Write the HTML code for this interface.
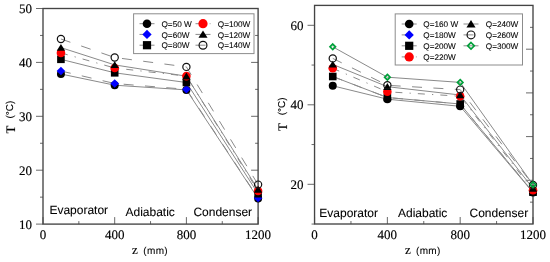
<!DOCTYPE html>
<html><head><meta charset="utf-8"><title>Temperature distribution</title>
<style>
html,body{margin:0;padding:0;background:#fff;width:550px;height:262px;overflow:hidden}
svg{display:block}
text{text-rendering:geometricPrecision}
text{stroke:#000;stroke-width:0.15px}
text.s{stroke:#000;stroke-width:0.08px}
</style></head>
<body>
<svg width="550" height="262" viewBox="0 0 550 262">
<rect width="550" height="262" fill="#fff"/>
<line x1="43.00" y1="224.1" x2="43.00" y2="217.1" stroke="#6a6a6a" stroke-width="1"/>
<line x1="78.85" y1="224.1" x2="78.85" y2="221.1" stroke="#6a6a6a" stroke-width="1"/>
<line x1="114.70" y1="224.1" x2="114.70" y2="217.1" stroke="#6a6a6a" stroke-width="1"/>
<line x1="150.55" y1="224.1" x2="150.55" y2="221.1" stroke="#6a6a6a" stroke-width="1"/>
<line x1="186.40" y1="224.1" x2="186.40" y2="217.1" stroke="#6a6a6a" stroke-width="1"/>
<line x1="222.25" y1="224.1" x2="222.25" y2="221.1" stroke="#6a6a6a" stroke-width="1"/>
<line x1="258.10" y1="224.1" x2="258.10" y2="217.1" stroke="#6a6a6a" stroke-width="1"/>
<line x1="36.0" y1="224.10" x2="43.0" y2="224.10" stroke="#6a6a6a" stroke-width="1"/>
<line x1="40.0" y1="197.15" x2="43.0" y2="197.15" stroke="#6a6a6a" stroke-width="1"/>
<line x1="36.0" y1="170.20" x2="43.0" y2="170.20" stroke="#6a6a6a" stroke-width="1"/>
<line x1="40.0" y1="143.25" x2="43.0" y2="143.25" stroke="#6a6a6a" stroke-width="1"/>
<line x1="36.0" y1="116.30" x2="43.0" y2="116.30" stroke="#6a6a6a" stroke-width="1"/>
<line x1="40.0" y1="89.35" x2="43.0" y2="89.35" stroke="#6a6a6a" stroke-width="1"/>
<line x1="36.0" y1="62.40" x2="43.0" y2="62.40" stroke="#6a6a6a" stroke-width="1"/>
<line x1="40.0" y1="35.45" x2="43.0" y2="35.45" stroke="#6a6a6a" stroke-width="1"/>
<line x1="36.0" y1="8.50" x2="43.0" y2="8.50" stroke="#6a6a6a" stroke-width="1"/>
<line x1="255.10000000000002" y1="197.15" x2="258.1" y2="197.15" stroke="#6a6a6a" stroke-width="1"/>
<line x1="251.10000000000002" y1="170.20" x2="258.1" y2="170.20" stroke="#6a6a6a" stroke-width="1"/>
<line x1="255.10000000000002" y1="143.25" x2="258.1" y2="143.25" stroke="#6a6a6a" stroke-width="1"/>
<line x1="251.10000000000002" y1="116.30" x2="258.1" y2="116.30" stroke="#6a6a6a" stroke-width="1"/>
<line x1="255.10000000000002" y1="89.35" x2="258.1" y2="89.35" stroke="#6a6a6a" stroke-width="1"/>
<line x1="251.10000000000002" y1="62.40" x2="258.1" y2="62.40" stroke="#6a6a6a" stroke-width="1"/>
<line x1="255.10000000000002" y1="35.45" x2="258.1" y2="35.45" stroke="#6a6a6a" stroke-width="1"/>
<rect x="43.0" y="8.5" width="215.10" height="215.60" fill="none" stroke="#444444" stroke-width="1.35"/>
<text x="43.00" y="239.2" text-anchor="middle" font-family="'Liberation Serif', 'Times New Roman', serif" font-size="13" fill="#000">0</text>
<text x="114.70" y="239.2" text-anchor="middle" font-family="'Liberation Serif', 'Times New Roman', serif" font-size="13" fill="#000">400</text>
<text x="186.40" y="239.2" text-anchor="middle" font-family="'Liberation Serif', 'Times New Roman', serif" font-size="13" fill="#000">800</text>
<text x="258.10" y="239.2" text-anchor="middle" font-family="'Liberation Serif', 'Times New Roman', serif" font-size="13" fill="#000">1200</text>
<text x="32.0" y="228.60" text-anchor="end" font-family="'Liberation Serif', 'Times New Roman', serif" font-size="13" fill="#000">10</text>
<text x="32.0" y="174.70" text-anchor="end" font-family="'Liberation Serif', 'Times New Roman', serif" font-size="13" fill="#000">20</text>
<text x="32.0" y="120.80" text-anchor="end" font-family="'Liberation Serif', 'Times New Roman', serif" font-size="13" fill="#000">30</text>
<text x="32.0" y="66.90" text-anchor="end" font-family="'Liberation Serif', 'Times New Roman', serif" font-size="13" fill="#000">40</text>
<text x="32.0" y="13.00" text-anchor="end" font-family="'Liberation Serif', 'Times New Roman', serif" font-size="13" fill="#000">50</text>
<text x="49.4" y="214.1" class="s" font-family="'Liberation Sans', Arial, sans-serif" font-size="12" fill="#000">Evaporator</text>
<text x="125.5" y="216.3" class="s" font-family="'Liberation Sans', Arial, sans-serif" font-size="12" fill="#000">Adiabatic</text>
<text x="193.4" y="215.8" class="s" font-family="'Liberation Sans', Arial, sans-serif" font-size="12" fill="#000">Condenser</text>
<text x="132" y="254.4" font-family="'Liberation Serif', 'Times New Roman', serif" font-size="13" fill="#000">z</text>
<text x="143.3" y="254.4" class="s" font-family="'Liberation Sans', Arial, sans-serif" font-size="10" letter-spacing="0.35" fill="#000">(mm)</text>
<text transform="translate(15.1,133.5) rotate(-90)" font-family="'Liberation Serif', 'Times New Roman', serif" font-size="13" fill="#000">T</text>
<text transform="translate(12.5,118.5) rotate(-90)" class="s" font-family="'Liberation Sans', Arial, sans-serif" font-size="10" fill="#000">(°C)</text>
<path d="M60.93 74.00L114.70 85.20L186.40 89.90L258.10 198.50" fill="none" stroke="#8a8a8a" stroke-width="1" />
<path d="M60.93 71.00L114.70 83.50L186.40 89.30L258.10 198.00" fill="none" stroke="#8a8a8a" stroke-width="1" stroke-dasharray="10 11.4"/>
<path d="M60.93 59.30L114.70 72.80L186.40 82.50L258.10 193.70" fill="none" stroke="#8a8a8a" stroke-width="1" />
<path d="M60.93 52.90L114.70 68.00L186.40 76.10L258.10 191.00" fill="none" stroke="#8a8a8a" stroke-width="1" stroke-dasharray="7 7.2 1.2 7.1"/>
<path d="M60.93 47.60L114.70 64.90L186.40 76.20L258.10 189.50" fill="none" stroke="#8a8a8a" stroke-width="1" />
<path d="M60.93 39.00L114.70 57.50L186.40 66.90L258.10 184.60" fill="none" stroke="#8a8a8a" stroke-width="1" stroke-dasharray="10 11.4"/>
<circle cx="60.93" cy="74.00" r="4.00" fill="#000"/>
<circle cx="114.70" cy="85.20" r="4.00" fill="#000"/>
<circle cx="186.40" cy="89.90" r="4.00" fill="#000"/>
<circle cx="258.10" cy="198.50" r="4.00" fill="#000"/>
<path d="M60.93 66.70L65.23 71.00L60.93 75.30L56.63 71.00Z" fill="#0000ff"/>
<path d="M114.70 79.20L119.00 83.50L114.70 87.80L110.40 83.50Z" fill="#0000ff"/>
<path d="M186.40 85.00L190.70 89.30L186.40 93.60L182.10 89.30Z" fill="#0000ff"/>
<path d="M258.10 193.70L262.40 198.00L258.10 202.30L253.80 198.00Z" fill="#0000ff"/>
<rect x="57.13" y="55.50" width="7.60" height="7.60" fill="#000"/>
<rect x="110.90" y="69.00" width="7.60" height="7.60" fill="#000"/>
<rect x="182.60" y="78.70" width="7.60" height="7.60" fill="#000"/>
<rect x="254.30" y="189.90" width="7.60" height="7.60" fill="#000"/>
<circle cx="60.93" cy="52.90" r="4.30" fill="#ff0000"/>
<circle cx="114.70" cy="68.00" r="4.30" fill="#ff0000"/>
<circle cx="186.40" cy="76.10" r="4.30" fill="#ff0000"/>
<circle cx="258.10" cy="191.00" r="4.30" fill="#ff0000"/>
<path d="M60.93 43.90L65.12 50.80L56.73 50.80Z" fill="#000"/>
<path d="M114.70 61.20L118.90 68.10L110.50 68.10Z" fill="#000"/>
<path d="M186.40 72.50L190.60 79.40L182.20 79.40Z" fill="#000"/>
<path d="M258.10 185.80L262.30 192.70L253.90 192.70Z" fill="#000"/>
<circle cx="60.93" cy="39.00" r="3.60" fill="none" stroke="#111" stroke-width="1.2"/>
<circle cx="114.70" cy="57.50" r="3.60" fill="none" stroke="#111" stroke-width="1.2"/>
<circle cx="186.40" cy="66.90" r="3.60" fill="none" stroke="#111" stroke-width="1.2"/>
<circle cx="258.10" cy="184.60" r="3.60" fill="none" stroke="#111" stroke-width="1.2"/>
<rect x="133.6" y="13.8" width="120.4" height="39.8" fill="#fff" stroke="#8c8c8c" stroke-width="1"/>
<line x1="139.5" y1="23.7" x2="154.5" y2="23.7" stroke="#8a8a8a" stroke-width="1" />
<circle cx="147.00" cy="23.70" r="4.32" fill="#000"/>
<text x="161.5" y="26.90" class="s" font-family="'Liberation Sans', Arial, sans-serif" font-size="8.2" fill="#000">Q=50 W</text>
<line x1="139.5" y1="34.4" x2="154.5" y2="34.4" stroke="#8a8a8a" stroke-width="1" stroke-dasharray="10 11.4"/>
<path d="M147.00 29.76L151.64 34.40L147.00 39.04L142.36 34.40Z" fill="#0000ff"/>
<text x="161.5" y="37.60" class="s" font-family="'Liberation Sans', Arial, sans-serif" font-size="8.2" fill="#000">Q=60W</text>
<line x1="139.5" y1="45.2" x2="154.5" y2="45.2" stroke="#8a8a8a" stroke-width="1" />
<rect x="142.90" y="41.10" width="8.21" height="8.21" fill="#000"/>
<text x="161.5" y="48.40" class="s" font-family="'Liberation Sans', Arial, sans-serif" font-size="8.2" fill="#000">Q=80W</text>
<line x1="195.5" y1="23.7" x2="210.5" y2="23.7" stroke="#8a8a8a" stroke-width="1" stroke-dasharray="7 7.2 1.2 7.1"/>
<circle cx="203.00" cy="23.70" r="4.62" fill="#ff0000"/>
<text x="217.8" y="26.90" class="s" font-family="'Liberation Sans', Arial, sans-serif" font-size="8.2" fill="#000">Q=100W</text>
<line x1="195.5" y1="34.4" x2="210.5" y2="34.4" stroke="#8a8a8a" stroke-width="1" />
<path d="M203.00 30.40L207.54 37.86L198.46 37.86Z" fill="#000"/>
<text x="217.8" y="37.60" class="s" font-family="'Liberation Sans', Arial, sans-serif" font-size="8.2" fill="#000">Q=120W</text>
<line x1="195.5" y1="45.2" x2="210.5" y2="45.2" stroke="#8a8a8a" stroke-width="1" stroke-dasharray="10 11.4"/>
<circle cx="203.00" cy="45.20" r="3.92" fill="none" stroke="#111" stroke-width="1.2"/>
<text x="217.8" y="48.40" class="s" font-family="'Liberation Sans', Arial, sans-serif" font-size="8.2" fill="#000">Q=140W</text>
<line x1="314.55" y1="224.0" x2="314.55" y2="217.0" stroke="#6a6a6a" stroke-width="1"/>
<line x1="350.96" y1="224.0" x2="350.96" y2="221.0" stroke="#6a6a6a" stroke-width="1"/>
<line x1="387.37" y1="224.0" x2="387.37" y2="217.0" stroke="#6a6a6a" stroke-width="1"/>
<line x1="423.77" y1="224.0" x2="423.77" y2="221.0" stroke="#6a6a6a" stroke-width="1"/>
<line x1="460.18" y1="224.0" x2="460.18" y2="217.0" stroke="#6a6a6a" stroke-width="1"/>
<line x1="496.59" y1="224.0" x2="496.59" y2="221.0" stroke="#6a6a6a" stroke-width="1"/>
<line x1="533.00" y1="224.0" x2="533.00" y2="217.0" stroke="#6a6a6a" stroke-width="1"/>
<line x1="311.55" y1="224.05" x2="314.55" y2="224.05" stroke="#6a6a6a" stroke-width="1"/>
<line x1="307.55" y1="184.30" x2="314.55" y2="184.30" stroke="#6a6a6a" stroke-width="1"/>
<line x1="311.55" y1="144.55" x2="314.55" y2="144.55" stroke="#6a6a6a" stroke-width="1"/>
<line x1="307.55" y1="104.80" x2="314.55" y2="104.80" stroke="#6a6a6a" stroke-width="1"/>
<line x1="311.55" y1="65.05" x2="314.55" y2="65.05" stroke="#6a6a6a" stroke-width="1"/>
<line x1="307.55" y1="25.30" x2="314.55" y2="25.30" stroke="#6a6a6a" stroke-width="1"/>
<line x1="530" y1="27.35" x2="533" y2="27.35" stroke="#6a6a6a" stroke-width="1"/>
<line x1="526" y1="49.20" x2="533" y2="49.20" stroke="#6a6a6a" stroke-width="1"/>
<line x1="530" y1="71.05" x2="533" y2="71.05" stroke="#6a6a6a" stroke-width="1"/>
<line x1="526" y1="92.90" x2="533" y2="92.90" stroke="#6a6a6a" stroke-width="1"/>
<line x1="530" y1="114.75" x2="533" y2="114.75" stroke="#6a6a6a" stroke-width="1"/>
<line x1="526" y1="136.60" x2="533" y2="136.60" stroke="#6a6a6a" stroke-width="1"/>
<line x1="530" y1="158.45" x2="533" y2="158.45" stroke="#6a6a6a" stroke-width="1"/>
<line x1="526" y1="180.30" x2="533" y2="180.30" stroke="#6a6a6a" stroke-width="1"/>
<line x1="530" y1="202.15" x2="533" y2="202.15" stroke="#6a6a6a" stroke-width="1"/>
<rect x="314.55" y="5.4" width="218.45" height="218.60" fill="none" stroke="#444444" stroke-width="1.35"/>
<text x="314.55" y="239.2" text-anchor="middle" font-family="'Liberation Serif', 'Times New Roman', serif" font-size="13" fill="#000">0</text>
<text x="387.37" y="239.2" text-anchor="middle" font-family="'Liberation Serif', 'Times New Roman', serif" font-size="13" fill="#000">400</text>
<text x="460.18" y="239.2" text-anchor="middle" font-family="'Liberation Serif', 'Times New Roman', serif" font-size="13" fill="#000">800</text>
<text x="533.00" y="239.2" text-anchor="middle" font-family="'Liberation Serif', 'Times New Roman', serif" font-size="13" fill="#000">1200</text>
<text x="303.55" y="188.80" text-anchor="end" font-family="'Liberation Serif', 'Times New Roman', serif" font-size="13" fill="#000">20</text>
<text x="303.55" y="109.30" text-anchor="end" font-family="'Liberation Serif', 'Times New Roman', serif" font-size="13" fill="#000">40</text>
<text x="303.55" y="29.80" text-anchor="end" font-family="'Liberation Serif', 'Times New Roman', serif" font-size="13" fill="#000">60</text>
<text x="319.3" y="216.7" class="s" font-family="'Liberation Sans', Arial, sans-serif" font-size="12" fill="#000">Evaporator</text>
<text x="398.0" y="217.2" class="s" font-family="'Liberation Sans', Arial, sans-serif" font-size="12" fill="#000">Adiabatic</text>
<text x="469.5" y="216.5" class="s" font-family="'Liberation Sans', Arial, sans-serif" font-size="12" fill="#000">Condenser</text>
<text x="405.1" y="254.1" font-family="'Liberation Serif', 'Times New Roman', serif" font-size="13" fill="#000">z</text>
<text x="416" y="254.1" class="s" font-family="'Liberation Sans', Arial, sans-serif" font-size="10" letter-spacing="0.35" fill="#000">(mm)</text>
<text transform="translate(286.8,131) rotate(-90)" font-family="'Liberation Serif', 'Times New Roman', serif" font-size="13" fill="#000">T</text>
<text transform="translate(284.7,115.3) rotate(-90)" class="s" font-family="'Liberation Sans', Arial, sans-serif" font-size="10" fill="#000">(°C)</text>
<path d="M332.75 85.80L387.37 99.20L460.18 106.30L533.00 192.50" fill="none" stroke="#8a8a8a" stroke-width="1" />
<path d="M332.75 76.50L387.37 97.50L460.18 104.00L533.00 192.20" fill="none" stroke="#8a8a8a" stroke-width="1" stroke-dasharray="10 11.4"/>
<path d="M332.75 76.50L387.37 97.50L460.18 104.00L533.00 192.20" fill="none" stroke="#8a8a8a" stroke-width="1" />
<path d="M332.75 68.30L387.37 91.80L460.18 96.20L533.00 190.30" fill="none" stroke="#8a8a8a" stroke-width="1" stroke-dasharray="7 7.2 1.2 7.1"/>
<path d="M332.75 64.40L387.37 86.70L460.18 95.00L533.00 188.50" fill="none" stroke="#8a8a8a" stroke-width="1" />
<path d="M332.75 58.40L387.37 85.30L460.18 89.60L533.00 185.00" fill="none" stroke="#8a8a8a" stroke-width="1" stroke-dasharray="10 11.4"/>
<path d="M332.75 46.80L387.37 77.20L460.18 82.40L533.00 184.70" fill="none" stroke="#8a8a8a" stroke-width="1" />
<circle cx="332.75" cy="85.80" r="4.00" fill="#000"/>
<circle cx="387.37" cy="99.20" r="4.00" fill="#000"/>
<circle cx="460.18" cy="106.30" r="4.00" fill="#000"/>
<circle cx="533.00" cy="192.50" r="4.00" fill="#000"/>
<rect x="328.95" y="72.70" width="7.60" height="7.60" fill="#000"/>
<rect x="383.57" y="93.70" width="7.60" height="7.60" fill="#000"/>
<rect x="456.38" y="100.20" width="7.60" height="7.60" fill="#000"/>
<rect x="529.20" y="188.40" width="7.60" height="7.60" fill="#000"/>
<circle cx="332.75" cy="68.30" r="4.30" fill="#ff0000"/>
<circle cx="387.37" cy="91.80" r="4.30" fill="#ff0000"/>
<circle cx="460.18" cy="96.20" r="4.30" fill="#ff0000"/>
<circle cx="533.00" cy="190.30" r="4.30" fill="#ff0000"/>
<path d="M332.75 60.70L336.95 67.60L328.55 67.60Z" fill="#000"/>
<path d="M387.37 83.00L391.57 89.90L383.17 89.90Z" fill="#000"/>
<path d="M460.18 91.30L464.38 98.20L455.98 98.20Z" fill="#000"/>
<path d="M533.00 184.80L537.20 191.70L528.80 191.70Z" fill="#000"/>
<circle cx="332.75" cy="58.40" r="3.60" fill="none" stroke="#111" stroke-width="1.2"/>
<circle cx="387.37" cy="85.30" r="3.60" fill="none" stroke="#111" stroke-width="1.2"/>
<circle cx="460.18" cy="89.60" r="3.60" fill="none" stroke="#111" stroke-width="1.2"/>
<circle cx="533.00" cy="185.00" r="3.60" fill="none" stroke="#111" stroke-width="1.2"/>
<path d="M332.75 44.05L335.50 46.80L332.75 49.55L330.00 46.80Z" fill="none" stroke="#00a03a" stroke-width="1.7"/>
<path d="M387.37 74.45L390.12 77.20L387.37 79.95L384.62 77.20Z" fill="none" stroke="#00a03a" stroke-width="1.7"/>
<path d="M460.18 79.65L462.93 82.40L460.18 85.15L457.43 82.40Z" fill="none" stroke="#00a03a" stroke-width="1.7"/>
<path d="M533.00 181.95L535.75 184.70L533.00 187.45L530.25 184.70Z" fill="none" stroke="#00a03a" stroke-width="1.7"/>
<rect x="395.2" y="13.9" width="127.30000000000001" height="51.1" fill="#fff" stroke="#8c8c8c" stroke-width="1"/>
<line x1="401.7" y1="24.0" x2="416.7" y2="24.0" stroke="#8a8a8a" stroke-width="1" />
<circle cx="409.20" cy="24.00" r="4.32" fill="#000"/>
<text x="423.3" y="27.20" class="s" font-family="'Liberation Sans', Arial, sans-serif" font-size="8.2" fill="#000">Q=160 W</text>
<line x1="401.7" y1="34.9" x2="416.7" y2="34.9" stroke="#8a8a8a" stroke-width="1" stroke-dasharray="10 11.4"/>
<path d="M409.20 30.26L413.84 34.90L409.20 39.54L404.56 34.90Z" fill="#0000ff"/>
<text x="423.3" y="38.10" class="s" font-family="'Liberation Sans', Arial, sans-serif" font-size="8.2" fill="#000">Q=180W</text>
<line x1="401.7" y1="45.8" x2="416.7" y2="45.8" stroke="#8a8a8a" stroke-width="1" />
<rect x="405.10" y="41.70" width="8.21" height="8.21" fill="#000"/>
<text x="423.3" y="49.00" class="s" font-family="'Liberation Sans', Arial, sans-serif" font-size="8.2" fill="#000">Q=200W</text>
<line x1="401.7" y1="56.9" x2="416.7" y2="56.9" stroke="#8a8a8a" stroke-width="1" stroke-dasharray="7 7.2 1.2 7.1"/>
<circle cx="409.20" cy="56.90" r="4.62" fill="#ff0000"/>
<text x="423.3" y="60.10" class="s" font-family="'Liberation Sans', Arial, sans-serif" font-size="8.2" fill="#000">Q=220W</text>
<line x1="463.5" y1="24.0" x2="478.5" y2="24.0" stroke="#8a8a8a" stroke-width="1" />
<path d="M471.00 20.00L475.54 27.46L466.46 27.46Z" fill="#000"/>
<text x="485.8" y="27.20" class="s" font-family="'Liberation Sans', Arial, sans-serif" font-size="8.2" fill="#000">Q=240W</text>
<line x1="463.5" y1="34.9" x2="478.5" y2="34.9" stroke="#8a8a8a" stroke-width="1" stroke-dasharray="10 11.4"/>
<circle cx="471.00" cy="34.90" r="3.92" fill="none" stroke="#111" stroke-width="1.2"/>
<text x="485.8" y="38.10" class="s" font-family="'Liberation Sans', Arial, sans-serif" font-size="8.2" fill="#000">Q=260W</text>
<line x1="463.5" y1="45.8" x2="478.5" y2="45.8" stroke="#8a8a8a" stroke-width="1" />
<path d="M471.00 42.50L474.30 45.80L471.00 49.10L467.70 45.80Z" fill="none" stroke="#00a03a" stroke-width="1.7"/>
<text x="485.8" y="49.00" class="s" font-family="'Liberation Sans', Arial, sans-serif" font-size="8.2" fill="#000">Q=300W</text>
</svg>
</body></html>
